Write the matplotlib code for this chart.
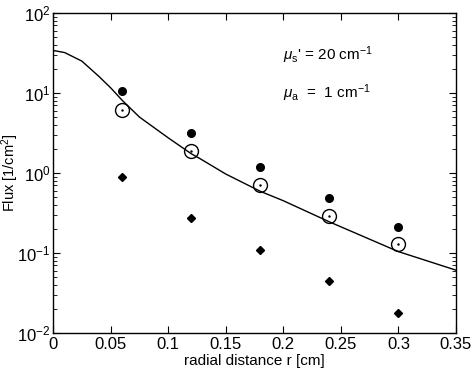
import numpy as np
import matplotlib
matplotlib.use("Agg")
import matplotlib.pyplot as plt
from matplotlib.ticker import LogLocator, NullFormatter

plt.rcParams['font.family'] = ['Liberation Sans', 'DejaVu Sans']
plt.rcParams['mathtext.fontset'] = 'custom'
plt.rcParams['mathtext.rm'] = 'Liberation Sans'
plt.rcParams['mathtext.it'] = 'Liberation Sans:italic'

# measured points
r_pts = [0.06, 0.12, 0.18, 0.24, 0.30]
flux_filled = [10.5, 3.2, 1.2, 0.49, 0.21]
flux_open = [6.2, 1.88, 0.71, 0.29, 0.13]
flux_star = [0.89, 0.27, 0.11, 0.045, 0.018]

# model curve
r_curve = [0.0, 0.01, 0.025, 0.04, 0.05, 0.06, 0.075, 0.1, 0.12, 0.128, 0.15,
           0.18, 0.2, 0.24, 0.3, 0.35]
flux_curve = [34, 32, 25, 16, 11.6, 8.1, 5.0, 2.75, 1.74, 1.5, 0.97,
              0.59, 0.45, 0.245, 0.104, 0.061]

fig = plt.figure(figsize=(4.74, 3.70), dpi=100)
ax = fig.add_axes([0.112, 0.1, 0.85, 0.865])

ax.plot(r_curve, flux_curve, color='black', lw=1.0)
ax.plot(r_pts, flux_filled, 'o', color='black', ms=5.5)
ax.plot(r_pts, flux_open, 'o', mfc='none', mec='black', ms=10, mew=1.0)
ax.plot(r_pts, flux_open, '.', color='black', ms=1.5)
ax.plot(r_pts, flux_star, 'D', color='black', ms=4)

ax.set_yscale('log')
ax.set_xlim(0, 0.35)
ax.set_ylim(1e-2, 1e2)
ax.set_xticks([0, 0.05, 0.1, 0.15, 0.2, 0.25, 0.3, 0.35])
ax.set_xticklabels(['0', '0.05', '0.1', '0.15', '0.2', '0.25', '0.3', '0.35'])
ax.yaxis.set_major_locator(LogLocator(base=10, numticks=10))
ax.yaxis.set_minor_locator(LogLocator(base=10, subs=np.arange(2, 10), numticks=20))
ax.yaxis.set_minor_formatter(NullFormatter())

ax.tick_params(which='both', direction='in', top=True, right=True, labelsize=12)
ax.tick_params(axis='x', pad=3)
ax.tick_params(axis='y', pad=2)
ax.tick_params(which='major', length=5)
ax.tick_params(which='minor', length=3)
for s in ax.spines.values():
    s.set_linewidth(1.0)

ax.set_xlabel('radial distance r [cm]', fontsize=11, labelpad=1)
ax.set_ylabel('Flux [1/cm$^2$]', fontsize=10.5)
ax.yaxis.set_label_coords(-0.079, 0.5)

ax.text(0.2, 26, "$\\mu_{\\mathrm{s}}$' = 20 cm$^{-1}$", fontsize=11)
ax.text(0.2, 8.7, "$\\mu_{\\mathrm{a}}$  =  1 cm$^{-1}$", fontsize=11)

fig.savefig('out.png', dpi=100)
